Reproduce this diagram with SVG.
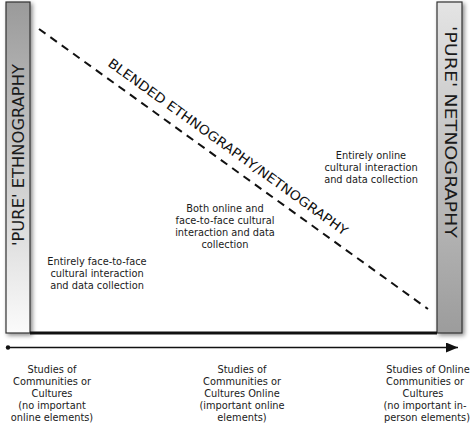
<svg xmlns="http://www.w3.org/2000/svg" width="474" height="425" viewBox="0 0 474 425">
<defs>
<linearGradient id="gLeft" x1="0" y1="0" x2="0" y2="1">
<stop offset="0" stop-color="#9a9a9a"/>
<stop offset="1" stop-color="#fbfbfb"/>
</linearGradient>
<linearGradient id="gRight" x1="0" y1="0" x2="0" y2="1">
<stop offset="0" stop-color="#e4e4e4"/>
<stop offset="1" stop-color="#9c9c9c"/>
</linearGradient>
<filter id="sh" x="-50%" y="-10%" width="200%" height="120%">
<feDropShadow dx="2" dy="2" stdDeviation="2" flood-color="#000" flood-opacity="0.45"/>
</filter>
<marker id="arr" markerWidth="12" markerHeight="10" refX="12" refY="5" orient="auto" markerUnits="userSpaceOnUse">
<path d="M0,0 L12,5 L0,10 Z" fill="#111"/>
</marker>
</defs>
<style>
.t{font-family:"DejaVu Sans",Verdana,sans-serif;font-size:9.8px;fill:#1a1a1a;text-anchor:middle}
.bar{stroke:#333;stroke-width:1.2}
.vt{font-family:"DejaVu Sans Condensed","DejaVu Sans",sans-serif;font-size:15.5px;fill:#1a1a1a;text-anchor:middle}
.bl{font-family:"DejaVu Sans",sans-serif;font-size:13px;fill:#111;text-anchor:middle}
</style>
<rect width="474" height="425" fill="#fff"/>
<g id="pure-ethnography">
<rect class="bar" x="6" y="2" width="24" height="331" fill="url(#gLeft)" filter="url(#sh)"/>
<text class="vt" transform="translate(23.5,155) rotate(-90)" textLength="182" lengthAdjust="spacingAndGlyphs">'PURE' ETHNOGRAPHY</text>
</g>
<g id="pure-netnography">
<rect class="bar" x="437" y="2" width="25" height="331" fill="url(#gRight)" filter="url(#sh)"/>
<text class="vt" transform="translate(444.5,132) rotate(90)" textLength="212" lengthAdjust="spacingAndGlyphs">'PURE' NETNOGRAPHY</text>
</g>
<g id="connectors">
<line x1="39" y1="29" x2="428" y2="309" stroke="#111" stroke-width="2" stroke-dasharray="8,6"/>
<line x1="30" y1="333" x2="437" y2="333" stroke="#111" stroke-width="3"/>
<line x1="8" y1="347.5" x2="458" y2="347.5" stroke="#111" stroke-width="1.5" marker-end="url(#arr)"/>
<circle cx="8" cy="347.5" r="2.2" fill="#111"/>
</g>
<g id="blended">
<text class="bl" transform="translate(228,147) rotate(35.8)" y="4.5" textLength="292" lengthAdjust="spacingAndGlyphs">BLENDED ETHNOGRAPHY/NETNOGRAPHY</text>
</g>
<g id="online-region">
<text class="t" x="371" y="158.5">Entirely online</text>
<text class="t" x="371" y="170.5">cultural interaction</text>
<text class="t" x="371" y="182.5">and data collection</text>
</g>
<g id="mixed-region">
<text class="t" x="225" y="211.5">Both online and</text>
<text class="t" x="225" y="223.5">face-to-face cultural</text>
<text class="t" x="225" y="235.5">interaction and data</text>
<text class="t" x="225" y="247.5">collection</text>
</g>
<g id="offline-region">
<text class="t" x="97" y="264.5">Entirely face-to-face</text>
<text class="t" x="97" y="276.5">cultural interaction</text>
<text class="t" x="97" y="288.5">and data collection</text>
</g>
<g id="label-left">
<text class="t" x="52" y="373">Studies of</text>
<text class="t" x="52" y="385">Communities or</text>
<text class="t" x="52" y="397">Cultures</text>
<text class="t" x="52" y="409">(no important</text>
<text class="t" x="52" y="421">online elements)</text>
</g>
<g id="label-middle">
<text class="t" x="242" y="373">Studies of</text>
<text class="t" x="242" y="385">Communities or</text>
<text class="t" x="242" y="397">Cultures Online</text>
<text class="t" x="242" y="409">(important online</text>
<text class="t" x="242" y="421">elements)</text>
</g>
<g id="label-right">
<text class="t" x="428" y="373">Studies of Online</text>
<text class="t" x="425" y="385">Communities or</text>
<text class="t" x="423" y="397">Cultures</text>
<text class="t" x="425" y="409">(no important in-</text>
<text class="t" x="427" y="421">person elements)</text>
</g>
</svg>
